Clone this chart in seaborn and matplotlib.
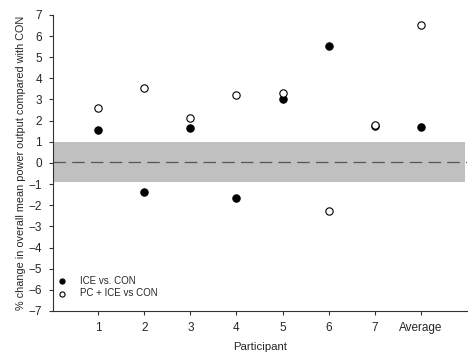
import matplotlib
matplotlib.use("Agg")
import matplotlib.pyplot as plt
import seaborn as sns
import pandas as pd

# Data
participants = ["1", "2", "3", "4", "5", "6", "7", "Average"]
ice_vs_con = [1.58, -1.37, 1.67, -1.66, 3.04, 5.53, 1.75, 1.72]
pc_ice_vs_con = [2.59, 3.55, 2.11, 3.23, 3.30, -2.27, 1.80, 6.51]
band_low, band_high = -0.9, 1.0
ref_line = 0.05

sns.set_style("ticks")
plt.rcParams["font.family"] = ["Liberation Sans", "DejaVu Sans"]

pos = list(range(1, len(participants) + 1))
df = pd.DataFrame({"pos": pos, "ice": ice_vs_con, "pc": pc_ice_vs_con})

fig = plt.figure(figsize=(4.74, 3.54), dpi=100)
ax = fig.add_axes([0.112, 0.1215, 0.873, 0.8365])

ax.axhspan(band_low, band_high, xmax=0.995, color="#c0c0c0", lw=0, zorder=0)
ax.axhline(ref_line, color="#555555", lw=0.9, ls=(0, (10, 5)), zorder=1)

sns.scatterplot(data=df, x="pos", y="ice", ax=ax, color="black",
                edgecolor="black", s=28, linewidth=0.8, zorder=3,
                label="ICE vs. CON")
sns.scatterplot(data=df, x="pos", y="pc", ax=ax, color="white",
                edgecolor="black", s=28, linewidth=0.8, zorder=4,
                label="PC + ICE vs CON")

ax.set_xlim(0.02, 9.0)
ax.set_ylim(-7, 7)
ax.set_xticks(pos)
ax.set_xticklabels(participants)
ax.set_yticks(range(-7, 8))
ax.tick_params(labelsize=8.5, length=3, width=0.8, color="#333333", pad=5)
ax.set_xlabel("Participant", fontsize=8.2, labelpad=6)
ax.set_ylabel("% change in overall mean power output compared with CON",
              fontsize=7.8, labelpad=2)
sns.despine(ax=ax)
for s in ["left", "bottom"]:
    ax.spines[s].set_linewidth(0.8)
    ax.spines[s].set_color("#333333")

leg = ax.legend(loc="lower left", frameon=False, fontsize=7,
                bbox_to_anchor=(-0.015, 0.0), handletextpad=1.5,
                handlelength=0.6, borderaxespad=0.9,
                labelspacing=0.25, markerscale=0.7)

fig.savefig("out.png", dpi=100)
